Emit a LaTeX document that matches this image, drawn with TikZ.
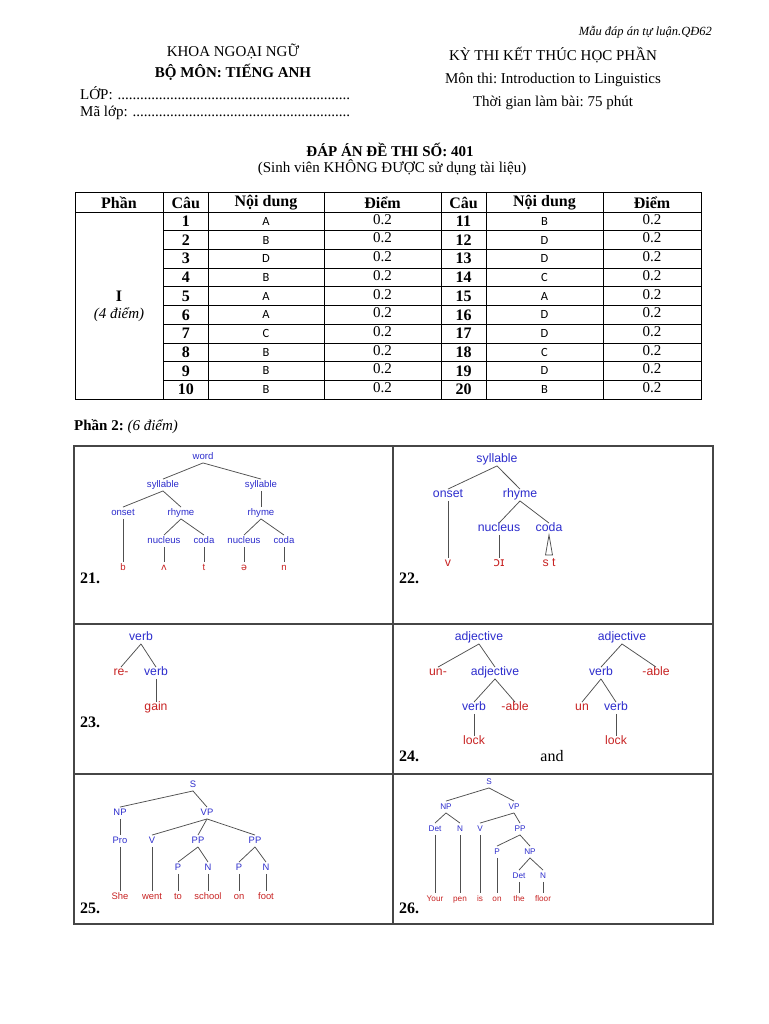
\documentclass[tikz,border=0pt]{standalone}
\usepackage{fontspec}
\setmainfont{Liberation Serif}
\newfontfamily\treefont{Liberation Sans}
\newfontfamily\ipafont{DejaVu Sans}
\newfontfamily\ansfont{Carlito}
\usepackage{tikz}
\usepackage{xcolor}
\frenchspacing
\definecolor{catblue}{RGB}{45,45,205}
\definecolor{leafred}{RGB}{200,35,35}
\definecolor{branch}{RGB}{80,80,80}
\definecolor{gridgray}{RGB}{70,70,70}
\tikzset{
  txt/.style={inner sep=0pt,font=\fontsize{15}{18}\selectfont},
  head/.style={inner sep=0pt,font=\bfseries\fontsize{16}{19}\selectfont},
  num/.style={inner sep=0pt,font=\bfseries\fontsize{16}{19}\selectfont},
  ans/.style={inner sep=0pt,font=\ansfont\fontsize{12.5}{15}\selectfont},
  pts/.style={inner sep=0pt,font=\fontsize{15}{18}\selectfont},
  qlabel/.style={inner sep=0pt,anchor=west,font=\bfseries\fontsize{16}{19}\selectfont},
  cat/.style={text=catblue,inner sep=1pt,text height=0.75em,text depth=0.2em},
  leaf/.style={text=leafred,inner sep=1pt,text height=0.75em,text depth=0.2em},
  branchline/.style={draw=branch,line width=0.75pt},
  gridline/.style={draw=gridgray,line width=1.1pt},
  tableline/.style={draw=black,line width=0.8pt}
}

\begin{document}
\begin{tikzpicture}[x=1pt,y=-1pt]
\useasboundingbox (0,0) rectangle (768,1024);
\fill[white] (0,0) rectangle (768,1024);
% header
\node[txt,anchor=east,font=\itshape\fontsize{12.5}{15}\selectfont] (form) at (712,32) {Mẫu đáp án tự luận.QĐ62};
\node[txt] (khoa) at (233,51) {KHOA NGOẠI NGỮ};
\node[txt,font=\bfseries\fontsize{15}{18}\selectfont] (bomon) at (233,72) {BỘ MÔN: TIẾNG ANH};
\node[txt,anchor=west] (lop) at (80,93) {\hbox to 272pt{LỚP: \leaders\hbox{.}\hfill}};
\node[txt,anchor=west] (malop) at (80,113) {\hbox to 272pt{Mã lớp: \leaders\hbox{.}\hfill}};
\node[txt] (kythi) at (553,55) {KỲ THI KẾT THÚC HỌC PHẦN};
\node[txt] (monthi) at (553,80) {Môn thi: Introduction to Linguistics};
\node[txt] (thoigian) at (553,103) {Thời gian làm bài: 75 phút};
\node[txt,font=\bfseries\fontsize{15}{18}\selectfont] (dapan) at (390,150) {ĐÁP ÁN ĐỀ THI SỐ: 401};
\node[txt] (sinhvien) at (392,168) {(Sinh viên KHÔNG ĐƯỢC sử dụng tài liệu)};
% table
\draw[tableline] (75,192) rectangle (701,399);
\draw[tableline] (75,212) -- (701,212);
\draw[tableline] (163,230.7) -- (701,230.7);
\draw[tableline] (163,249.4) -- (701,249.4);
\draw[tableline] (163,268.1) -- (701,268.1);
\draw[tableline] (163,286.8) -- (701,286.8);
\draw[tableline] (163,305.5) -- (701,305.5);
\draw[tableline] (163,324.2) -- (701,324.2);
\draw[tableline] (163,342.9) -- (701,342.9);
\draw[tableline] (163,361.6) -- (701,361.6);
\draw[tableline] (163,380.3) -- (701,380.3);
\draw[tableline] (163,192) -- (163,399);
\draw[tableline] (208.5,192) -- (208.5,399);
\draw[tableline] (324,192) -- (324,399);
\draw[tableline] (441,192) -- (441,399);
\draw[tableline] (486,192) -- (486,399);
\draw[tableline] (603,192) -- (603,399);
\node[head] (hphan) at (119,203) {Phần};
\node[head] (hcau1) at (185.75,203) {Câu};
\node[head] (hnd1) at (266,203) {Nội dung};
\node[head] (hdiem1) at (382.5,203) {Điểm};
\node[head] (hcau2) at (463.5,203) {Câu};
\node[head] (hnd2) at (544.5,203) {Nội dung};
\node[head] (hdiem2) at (652,203) {Điểm};
\node[num] (phan1) at (119,296) {I};
\node[pts,font=\itshape\fontsize{15}{18}\selectfont] (diem1) at (119,315) {(4 điểm)};
% rows 1-10
\node[num] (q1) at (185.75,221.35) {1};
\node[ans] (a1) at (266,221.35) {A};
\node[pts] (p1) at (382.5,219.35) {0.2};
\node[num] (q2) at (185.75,240.05) {2};
\node[ans] (a2) at (266,240.05) {B};
\node[pts] (p2) at (382.5,238.05) {0.2};
\node[num] (q3) at (185.75,258.75) {3};
\node[ans] (a3) at (266,258.75) {D};
\node[pts] (p3) at (382.5,256.75) {0.2};
\node[num] (q4) at (185.75,277.45) {4};
\node[ans] (a4) at (266,277.45) {B};
\node[pts] (p4) at (382.5,275.45) {0.2};
\node[num] (q5) at (185.75,296.15) {5};
\node[ans] (a5) at (266,296.15) {A};
\node[pts] (p5) at (382.5,294.15) {0.2};
\node[num] (q6) at (185.75,314.85) {6};
\node[ans] (a6) at (266,314.85) {A};
\node[pts] (p6) at (382.5,312.85) {0.2};
\node[num] (q7) at (185.75,333.55) {7};
\node[ans] (a7) at (266,333.55) {C};
\node[pts] (p7) at (382.5,331.55) {0.2};
\node[num] (q8) at (185.75,352.25) {8};
\node[ans] (a8) at (266,352.25) {B};
\node[pts] (p8) at (382.5,350.25) {0.2};
\node[num] (q9) at (185.75,370.95) {9};
\node[ans] (a9) at (266,370.95) {B};
\node[pts] (p9) at (382.5,368.95) {0.2};
\node[num] (q10) at (185.75,389.65) {10};
\node[ans] (a10) at (266,389.65) {B};
\node[pts] (p10) at (382.5,387.65) {0.2};
% rows 11-20
\node[num] (q11) at (463.5,221.35) {11};
\node[ans] (a11) at (544.5,221.35) {B};
\node[pts] (p11) at (652,219.35) {0.2};
\node[num] (q12) at (463.5,240.05) {12};
\node[ans] (a12) at (544.5,240.05) {D};
\node[pts] (p12) at (652,238.05) {0.2};
\node[num] (q13) at (463.5,258.75) {13};
\node[ans] (a13) at (544.5,258.75) {D};
\node[pts] (p13) at (652,256.75) {0.2};
\node[num] (q14) at (463.5,277.45) {14};
\node[ans] (a14) at (544.5,277.45) {C};
\node[pts] (p14) at (652,275.45) {0.2};
\node[num] (q15) at (463.5,296.15) {15};
\node[ans] (a15) at (544.5,296.15) {A};
\node[pts] (p15) at (652,294.15) {0.2};
\node[num] (q16) at (463.5,314.85) {16};
\node[ans] (a16) at (544.5,314.85) {D};
\node[pts] (p16) at (652,312.85) {0.2};
\node[num] (q17) at (463.5,333.55) {17};
\node[ans] (a17) at (544.5,333.55) {D};
\node[pts] (p17) at (652,331.55) {0.2};
\node[num] (q18) at (463.5,352.25) {18};
\node[ans] (a18) at (544.5,352.25) {C};
\node[pts] (p18) at (652,350.25) {0.2};
\node[num] (q19) at (463.5,370.95) {19};
\node[ans] (a19) at (544.5,370.95) {D};
\node[pts] (p19) at (652,368.95) {0.2};
\node[num] (q20) at (463.5,389.65) {20};
\node[ans] (a20) at (544.5,389.65) {B};
\node[pts] (p20) at (652,387.65) {0.2};
% part 2
\node[txt,anchor=west] (phan2) at (74,427) {\textbf{Phần 2:} \textit{(6 điểm)}};
\draw[gridline] (74,446) rectangle (713,924);
\draw[gridline] (393,446) -- (393,924);
\draw[gridline] (74,624) -- (713,624);
\draw[gridline] (74,774) -- (713,774);
\node[qlabel] (lab21) at (80,578) {21.};
\node[qlabel] (lab22) at (399,578) {22.};
\node[qlabel] (lab23) at (80,722) {23.};
\node[qlabel] (lab24) at (399,756) {24.};
\node[txt,font=\fontsize{16}{19}\selectfont] (and24) at (552,756) {and};
\node[qlabel] (lab25) at (80,908) {25.};
\node[qlabel] (lab26) at (399,908) {26.};
% tree 21
\begin{scope}[font=\treefont\fontsize{9.6}{11}\selectfont]
\node[cat] (w21) at (203,457) {word};
\node[cat] (s21a) at (163,485) {syllable};
\node[cat] (s21b) at (261,485) {syllable};
\node[cat] (o21) at (123,513) {onset};
\node[cat] (r21a) at (181,513) {rhyme};
\node[cat] (r21b) at (261,513) {rhyme};
\node[cat] (n21a) at (164,541) {nucleus};
\node[cat] (c21a) at (204,541) {coda};
\node[cat] (n21b) at (244,541) {nucleus};
\node[cat] (c21b) at (284,541) {coda};
\node[leaf] (l21a) at (123,568) {b};
\node[leaf] (l21b) at (164,568) {\ipafont ʌ};
\node[leaf] (l21c) at (204,568) {t};
\node[leaf] (l21d) at (244,568) {\ipafont ə};
\node[leaf] (l21e) at (284,568) {n};
\draw[branchline] (w21.south) -- (s21a.north);
\draw[branchline] (w21.south) -- (s21b.north);
\draw[branchline] (s21a.south) -- (o21.north);
\draw[branchline] (s21a.south) -- (r21a.north);
\draw[branchline] (s21b.south) -- (r21b.north);
\draw[branchline] (r21a.south) -- (n21a.north);
\draw[branchline] (r21a.south) -- (c21a.north);
\draw[branchline] (r21b.south) -- (n21b.north);
\draw[branchline] (r21b.south) -- (c21b.north);
\draw[branchline] (o21.south) -- (l21a.north);
\draw[branchline] (n21a.south) -- (l21b.north);
\draw[branchline] (c21a.south) -- (l21c.north);
\draw[branchline] (n21b.south) -- (l21d.north);
\draw[branchline] (c21b.south) -- (l21e.north);
\end{scope}
% tree 22
\begin{scope}[font=\treefont\fontsize{12.3}{14}\selectfont]
\node[cat] (syl22) at (497,460) {syllable};
\node[cat] (on22) at (448,495) {onset};
\node[cat] (rh22) at (520,495) {rhyme};
\node[cat] (nu22) at (499,529) {nucleus};
\node[cat] (co22) at (549,529) {coda};
\node[leaf] (v22) at (448,564) {v};
\node[leaf] (oi22) at (499,564) {\ipafont ɔɪ};
\node[leaf] (st22) at (549,564) {s t};
\coordinate (tl22) at (545.5,555);
\coordinate (tr22) at (552.5,555);
\draw[branchline] (syl22.south) -- (on22.north);
\draw[branchline] (syl22.south) -- (rh22.north);
\draw[branchline] (rh22.south) -- (nu22.north);
\draw[branchline] (rh22.south) -- (co22.north);
\draw[branchline] (on22.south) -- (v22.north);
\draw[branchline] (nu22.south) -- (oi22.north);
\draw[branchline] (co22.south) -- (tl22) -- (tr22) -- cycle;
\end{scope}
% tree 23
\begin{scope}[font=\treefont\fontsize{12.2}{14}\selectfont]
\node[cat] (vb23) at (141,638) {verb};
\node[leaf] (re23) at (121,673) {re-};
\node[cat] (vc23) at (156,673) {verb};
\node[leaf] (gn23) at (156,708) {gain};
\draw[branchline] (vb23.south) -- (re23.north);
\draw[branchline] (vb23.south) -- (vc23.north);
\draw[branchline] (vc23.south) -- (gn23.north);
\end{scope}
% tree 24
\begin{scope}[font=\treefont\fontsize{12.2}{14}\selectfont]
\node[cat] (aj24a) at (479,638) {adjective};
\node[leaf] (un24a) at (438,673) {un-};
\node[cat] (aj24b) at (495,673) {adjective};
\node[cat] (vb24a) at (474,708) {verb};
\node[leaf] (ab24a) at (515,708) {-able};
\node[leaf] (lk24a) at (474,742) {lock};
\node[cat] (aj24c) at (622,638) {adjective};
\node[cat] (vb24b) at (601,673) {verb};
\node[leaf] (ab24b) at (656,673) {-able};
\node[leaf] (un24b) at (582,708) {un};
\node[cat] (vb24c) at (616,708) {verb};
\node[leaf] (lk24b) at (616,742) {lock};
\draw[branchline] (aj24a.south) -- (un24a.north);
\draw[branchline] (aj24a.south) -- (aj24b.north);
\draw[branchline] (aj24b.south) -- (vb24a.north);
\draw[branchline] (aj24b.south) -- (ab24a.north);
\draw[branchline] (vb24a.south) -- (lk24a.north);
\draw[branchline] (aj24c.south) -- (vb24b.north);
\draw[branchline] (aj24c.south) -- (ab24b.north);
\draw[branchline] (vb24b.south) -- (un24b.north);
\draw[branchline] (vb24b.south) -- (vb24c.north);
\draw[branchline] (vb24c.south) -- (lk24b.north);
\end{scope}
% tree 25
\begin{scope}[font=\treefont\fontsize{9.4}{11}\selectfont]
\node[cat] (s25) at (193,785) {S};
\node[cat] (np25) at (120,813) {NP};
\node[cat] (vp25) at (207,813) {VP};
\node[cat] (pro25) at (120,841) {Pro};
\node[cat] (v25) at (152,841) {V};
\node[cat] (pp25a) at (198,841) {PP};
\node[cat] (pp25b) at (255,841) {PP};
\node[cat] (p25a) at (178,868) {P};
\node[cat] (n25a) at (208,868) {N};
\node[cat] (p25b) at (239,868) {P};
\node[cat] (n25b) at (266,868) {N};
\node[leaf] (she25) at (120,897) {She};
\node[leaf] (went25) at (152,897) {went};
\node[leaf] (to25) at (178,897) {to};
\node[leaf] (school25) at (208,897) {school};
\node[leaf] (on25) at (239,897) {on};
\node[leaf] (foot25) at (266,897) {foot};
\draw[branchline] (s25.south) -- (np25.north);
\draw[branchline] (s25.south) -- (vp25.north);
\draw[branchline] (np25.south) -- (pro25.north);
\draw[branchline] (vp25.south) -- (v25.north);
\draw[branchline] (vp25.south) -- (pp25a.north);
\draw[branchline] (vp25.south) -- (pp25b.north);
\draw[branchline] (pp25a.south) -- (p25a.north);
\draw[branchline] (pp25a.south) -- (n25a.north);
\draw[branchline] (pp25b.south) -- (p25b.north);
\draw[branchline] (pp25b.south) -- (n25b.north);
\draw[branchline] (pro25.south) -- (she25.north);
\draw[branchline] (v25.south) -- (went25.north);
\draw[branchline] (p25a.south) -- (to25.north);
\draw[branchline] (n25a.south) -- (school25.north);
\draw[branchline] (p25b.south) -- (on25.north);
\draw[branchline] (n25b.south) -- (foot25.north);
\end{scope}
% tree 26
\begin{scope}[font=\treefont\fontsize{8.2}{10}\selectfont]
\node[cat] (s26) at (489,782) {S};
\node[cat] (np26a) at (446,807) {NP};
\node[cat] (vp26) at (514,807) {VP};
\node[cat] (det26a) at (435,829) {Det};
\node[cat] (n26a) at (460,829) {N};
\node[cat] (v26) at (480,829) {V};
\node[cat] (pp26) at (520,829) {PP};
\node[cat] (p26) at (497,852) {P};
\node[cat] (np26b) at (530,852) {NP};
\node[cat] (det26b) at (519,876) {Det};
\node[cat] (n26b) at (543,876) {N};
\node[leaf] (your26) at (435,899) {Your};
\node[leaf] (pen26) at (460,899) {pen};
\node[leaf] (is26) at (480,899) {is};
\node[leaf] (on26) at (497,899) {on};
\node[leaf] (the26) at (519,899) {the};
\node[leaf] (floor26) at (543,899) {floor};
\draw[branchline] (s26.south) -- (np26a.north);
\draw[branchline] (s26.south) -- (vp26.north);
\draw[branchline] (np26a.south) -- (det26a.north);
\draw[branchline] (np26a.south) -- (n26a.north);
\draw[branchline] (vp26.south) -- (v26.north);
\draw[branchline] (vp26.south) -- (pp26.north);
\draw[branchline] (pp26.south) -- (p26.north);
\draw[branchline] (pp26.south) -- (np26b.north);
\draw[branchline] (np26b.south) -- (det26b.north);
\draw[branchline] (np26b.south) -- (n26b.north);
\draw[branchline] (det26a.south) -- (your26.north);
\draw[branchline] (n26a.south) -- (pen26.north);
\draw[branchline] (v26.south) -- (is26.north);
\draw[branchline] (p26.south) -- (on26.north);
\draw[branchline] (det26b.south) -- (the26.north);
\draw[branchline] (n26b.south) -- (floor26.north);
\end{scope}
\end{tikzpicture}
\end{document}
